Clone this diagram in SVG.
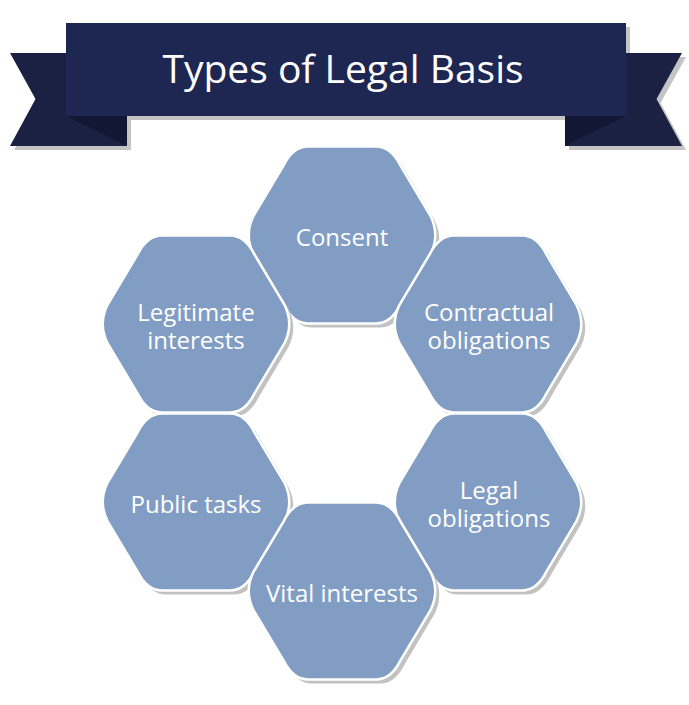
<svg xmlns="http://www.w3.org/2000/svg" width="689" height="705" viewBox="0 0 689 705">
  <defs>
    <style>
      .hex { fill: #819dc3; stroke: #ffffff; stroke-width: 2.5; }
      .shadow { fill: #c2c2c2; }
      .bshadow { fill: #c4c4c4; }
      .lbl { font-family: "Open Sans", "Noto Sans", "Liberation Sans", sans-serif; font-size: 24px; fill: #ffffff; text-anchor: middle; }
      .title { font-family: "Open Sans", "Noto Sans", "Liberation Sans", sans-serif; font-size: 39px; fill: #ffffff; text-anchor: middle; }
    </style>
    <path id="hexshape" d="M 88.5 19.1 L 58.5 69.4 Q 49 88.5 34 88.5 L -34 88.5 Q -49 88.5 -58.5 69.4 L -88.5 19.1 Q -98 0 -88.5 -19.1 L -58.5 -69.4 Q -49 -88.5 -34 -88.5 L 34 -88.5 Q 49 -88.5 58.5 -69.4 L 88.5 -19.1 Q 98 0 88.5 19.1 Z"/>
  </defs>
  <rect width="689" height="705" fill="#ffffff"/>

  <g id="banner">
    <polygon class="bshadow" points="14,57 70,57 70,120 131,120 131,150 14,150 39.5,103"/>
    <polygon class="bshadow" points="686,57 630,57 630,120 569,120 569,150 686,150 660.5,103"/>
    <rect class="bshadow" x="70" y="27" width="560" height="93"/>
    <polygon fill="#1a2142" points="10,53 70,53 70,116 127,116 127,146 10,146 35.5,99"/>
    <polygon fill="#1a2142" points="682,53 622,53 622,116 565,116 565,146 682,146 656.5,99"/>
    <polygon fill="#121834" points="66,116 127,116 127,146"/>
    <polygon fill="#121834" points="626,116 565,116 565,146"/>
    <rect fill="#1e2752" x="66" y="23" width="560" height="93"/>
    <text class="title" x="343" y="83">Types of Legal Basis</text>
  </g>

  <g id="consent">
    <use href="#hexshape" class="shadow" transform="translate(346,239)"/>
    <use href="#hexshape" class="hex" transform="translate(342,235)"/>
    <text class="lbl" x="342" y="246">Consent</text>
  </g>
  <g id="legitimate-interests">
    <use href="#hexshape" class="shadow" transform="translate(200,328)"/>
    <use href="#hexshape" class="hex" transform="translate(196,324)"/>
    <text class="lbl" x="196" y="321">Legitimate</text>
    <text class="lbl" x="196" y="349">interests</text>
  </g>
  <g id="contractual-obligations">
    <use href="#hexshape" class="shadow" transform="translate(492,328)"/>
    <use href="#hexshape" class="hex" transform="translate(488,324)"/>
    <text class="lbl" x="489" y="321">Contractual</text>
    <text class="lbl" x="489" y="349">obligations</text>
  </g>
  <g id="public-tasks">
    <use href="#hexshape" class="shadow" transform="translate(200,506)"/>
    <use href="#hexshape" class="hex" transform="translate(196,502)"/>
    <text class="lbl" x="196" y="513">Public tasks</text>
  </g>
  <g id="legal-obligations">
    <use href="#hexshape" class="shadow" transform="translate(492,506)"/>
    <use href="#hexshape" class="hex" transform="translate(488,502)"/>
    <text class="lbl" x="489" y="499">Legal</text>
    <text class="lbl" x="489" y="527">obligations</text>
  </g>
  <g id="vital-interests">
    <use href="#hexshape" class="shadow" transform="translate(346,595)"/>
    <use href="#hexshape" class="hex" transform="translate(342,591)"/>
    <text class="lbl" x="342" y="602">Vital interests</text>
  </g>
  <g id="connectors"></g>
</svg>
